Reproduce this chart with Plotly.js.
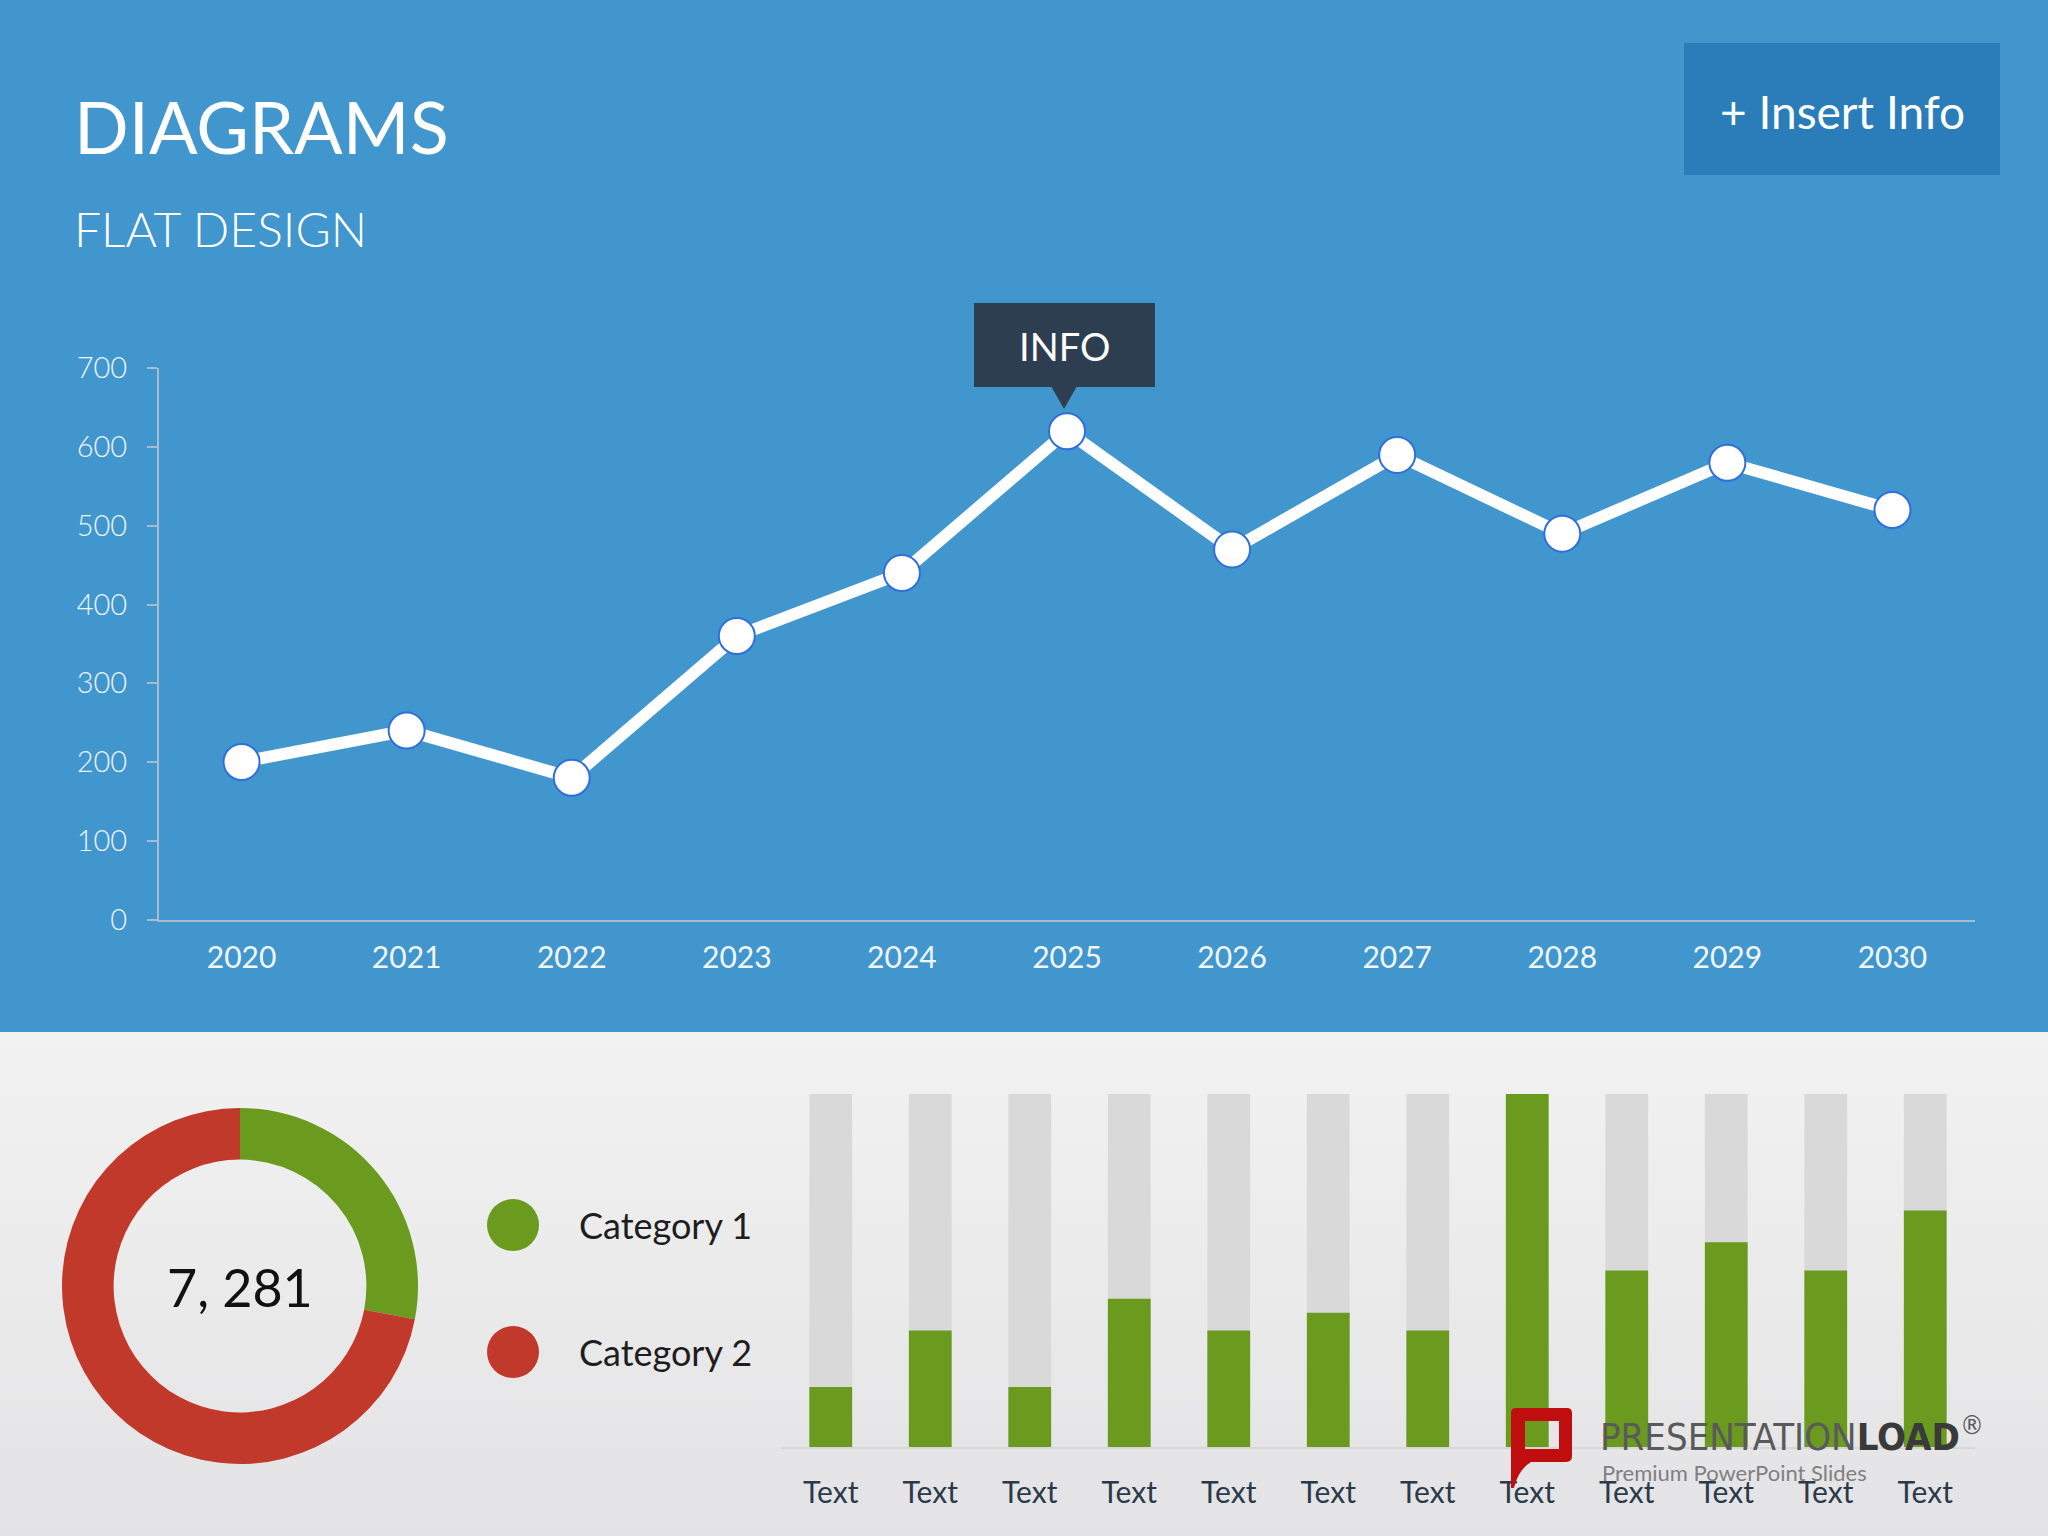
<!DOCTYPE html>
<html><head><meta charset="utf-8">
<script src="https://cdn.plot.ly/plotly-3.0.1.min.js"></script>
<style>
html,body{margin:0;padding:0;}
#chart{width:2048px;height:1536px;background:linear-gradient(to bottom,#4196ce 0px,#4196ce 1032px,#f2f2f2 1032px,#e3e3e5 1536px);}
</style></head><body><div id="chart"></div>
<script>
// ---- data ----
const years = ['2020','2021','2022','2023','2024','2025','2026','2027','2028','2029','2030'];
const lineValues = [200, 240, 180, 360, 440, 620, 470, 590, 490, 580, 520];
const yTicks = [0, 100, 200, 300, 400, 500, 600, 700];

const donutLabels = ['Category 1', 'Category 2'];
const donutValues = [28, 72];
const donutCenterText = '7, 281';

const barLabels = ['Text','Text','Text','Text','Text','Text','Text','Text','Text','Text','Text','Text'];
const barValues = [17, 33, 17, 42, 33, 38, 33, 100, 50, 58, 50, 67];
const barTrack  = [100, 100, 100, 100, 100, 100, 100, 100, 100, 100, 100, 100];

// ---- helpers (paper coordinates from pixel positions) ----
const W = 2048, H = 1536;
const px = x => x / W;
const py = y => 1 - y / H;
const P = (x, y) => px(x).toFixed(5) + ',' + py(y).toFixed(5);

const GREEN = '#6a9a1e', RED = '#c0392b';
const FONT = 'Lato, "Open Sans", sans-serif';
const barIdx = barLabels.map((_, i) => i);

const traces = [
  {
    type: 'scatter', mode: 'lines+markers', x: years, y: lineValues,
    xaxis: 'x', yaxis: 'y', cliponaxis: false,
    line: {color: '#ffffff', width: 12},
    marker: {size: 36, color: '#ffffff', line: {color: '#2f6fdc', width: 2}},
    hoverinfo: 'skip'
  },
  {
    type: 'bar', x: barIdx, y: barTrack, xaxis: 'x2', yaxis: 'y2',
    marker: {color: '#d9d9da'}, hoverinfo: 'skip'
  },
  {
    type: 'bar', x: barIdx, y: barValues, xaxis: 'x2', yaxis: 'y2',
    marker: {color: GREEN}, hoverinfo: 'skip'
  },
  {
    type: 'pie', labels: donutLabels, values: donutValues, hole: 0.71,
    sort: false, direction: 'clockwise', rotation: 0,
    marker: {colors: [GREEN, RED], line: {width: 0}},
    textinfo: 'none', hoverinfo: 'skip',
    domain: {x: [px(240 - 178), px(240 + 178)], y: [py(1286 + 178), py(1286 - 178)]}
  },
  {
    type: 'scatter', mode: 'markers', x: [0, 0], y: [1, 0],
    xaxis: 'x3', yaxis: 'y3', cliponaxis: false,
    marker: {size: 52, color: [GREEN, RED]}, hoverinfo: 'skip'
  }
];

const logoPath =
  'M' + P(1516,1408) + ' L' + P(1567,1408) + ' Q' + P(1572,1408) + ' ' + P(1572,1413) +
  ' L' + P(1572,1456) + ' Q' + P(1572,1462) + ' ' + P(1566,1462) +
  ' L' + P(1531,1462) + ' Q' + P(1518,1470) + ' ' + P(1514,1488) +
  ' L' + P(1511,1488) + ' L' + P(1511,1413) + ' Q' + P(1511,1408) + ' ' + P(1516,1408) + ' Z' +
  ' M' + P(1525,1421) + ' L' + P(1559,1421) + ' L' + P(1559,1449) + ' L' + P(1525,1449) + ' Z';

const layout = {
  width: W, height: H,
  margin: {l: 0, r: 0, t: 0, b: 0, pad: 0},
  paper_bgcolor: 'rgba(0,0,0,0)', plot_bgcolor: 'rgba(0,0,0,0)',
  showlegend: false, barmode: 'overlay', bargap: 0.57,
  font: {family: FONT},
  xaxis: {
    domain: [px(159), px(1975)], type: 'category', anchor: 'y', range: [-0.5, 10.5],
    showline: true, linecolor: '#a9bccd', linewidth: 2,
    ticks: '', showgrid: false, zeroline: false, fixedrange: true,
    tickfont: {family: FONT, size: 30, color: '#f2f6fa'}, ticklabelstandoff: 10
  },
  yaxis: {
    domain: [py(919.5), py(368.3)], range: [0, 700], anchor: 'x',
    tickvals: yTicks, ticks: 'outside', ticklen: 10, tickwidth: 2, tickcolor: '#a9bccd',
    showline: true, linecolor: '#a9bccd', linewidth: 2,
    showgrid: false, zeroline: false, fixedrange: true,
    tickfont: {family: FONT, size: 29, color: '#eef4fa', weight: 300}, ticklabelstandoff: 14
  },
  xaxis2: {
    domain: [px(781), px(1975)], range: [-0.5, 11.5], anchor: 'y2',
    tickvals: barIdx, ticktext: barLabels,
    showline: true, linecolor: '#d6d6d8', linewidth: 2,
    ticks: '', showgrid: false, zeroline: false, fixedrange: true,
    tickfont: {family: FONT, size: 30, color: '#2b3a4a'}, ticklabelstandoff: 18
  },
  yaxis2: {
    domain: [py(1447), py(1094)], range: [0, 100], anchor: 'x2',
    visible: false, fixedrange: true
  },
  xaxis3: {domain: [px(463), px(563)], range: [-1, 1], anchor: 'y3', visible: false},
  yaxis3: {domain: [py(1352), py(1225)], range: [0, 1], anchor: 'x3', visible: false},
  shapes: [
    {type: 'rect', xref: 'paper', yref: 'paper', x0: px(1684), x1: px(2000), y0: py(175), y1: py(43),
     fillcolor: '#2a7db8', line: {width: 0}, layer: 'below'},
    {type: 'rect', xref: 'paper', yref: 'paper', x0: px(974), x1: px(1155), y0: py(387), y1: py(303),
     fillcolor: '#2d3e50', line: {width: 0}, layer: 'above'},
    {type: 'path', xref: 'paper', yref: 'paper',
     path: 'M' + P(1051,386) + ' L' + P(1077,386) + ' L' + P(1064,409) + ' Z',
     fillcolor: '#2d3e50', line: {width: 0}, layer: 'above'},
    {type: 'path', xref: 'paper', yref: 'paper', path: logoPath, fillrule: 'evenodd',
     fillcolor: '#c00d0d', line: {width: 0}, layer: 'above'}
  ],
  annotations: [
    {xref: 'paper', yref: 'paper', x: px(72), y: py(126), xanchor: 'left', yanchor: 'middle',
     text: 'DIAGRAMS', showarrow: false, font: {family: FONT, size: 72, color: '#ffffff'}},
    {xref: 'paper', yref: 'paper', x: px(72), y: py(228), xanchor: 'left', yanchor: 'middle',
     text: 'FLAT DESIGN', showarrow: false, font: {family: FONT, size: 48, color: '#ffffff', weight: 300}},
    {xref: 'paper', yref: 'paper', x: px(1842), y: py(111), xanchor: 'center', yanchor: 'middle',
     text: '+ Insert Info', showarrow: false, font: {family: FONT, size: 46, color: '#ffffff'}},
    {xref: 'paper', yref: 'paper', x: px(1064), y: py(346), xanchor: 'center', yanchor: 'middle',
     text: 'INFO', showarrow: false, font: {family: FONT, size: 38, color: '#ffffff'}},
    {xref: 'paper', yref: 'paper', x: px(240), y: py(1287), xanchor: 'center', yanchor: 'middle',
     text: donutCenterText, showarrow: false, font: {family: FONT, size: 52, color: '#111111'}},
    {xref: 'x3', yref: 'y3', x: 0, y: 1, xshift: 64, xanchor: 'left', yanchor: 'middle',
     text: donutLabels[0], showarrow: false, font: {family: FONT, size: 36, color: '#1e1e1e'}},
    {xref: 'x3', yref: 'y3', x: 0, y: 0, xshift: 64, xanchor: 'left', yanchor: 'middle',
     text: donutLabels[1], showarrow: false, font: {family: FONT, size: 36, color: '#1e1e1e'}},
    {xref: 'paper', yref: 'paper', x: px(1598), y: py(1434), xanchor: 'left', yanchor: 'middle',
     text: 'PRESENTATION<b style="fill:#3a3a3a">LOAD</b><sup>®</sup>', showarrow: false,
     font: {family: '"Liberation Sans Narrow", "DejaVu Sans Condensed", Roboto, sans-serif', size: 38, color: '#5a5a5a'}},
    {xref: 'paper', yref: 'paper', x: px(1600), y: py(1472), xanchor: 'left', yanchor: 'middle',
     text: 'Premium PowerPoint Slides', showarrow: false, font: {family: FONT, size: 22, color: '#808080'}}
  ]
};

Plotly.newPlot('chart', traces, layout, {staticPlot: true, displayModeBar: false});
</script></body></html>
